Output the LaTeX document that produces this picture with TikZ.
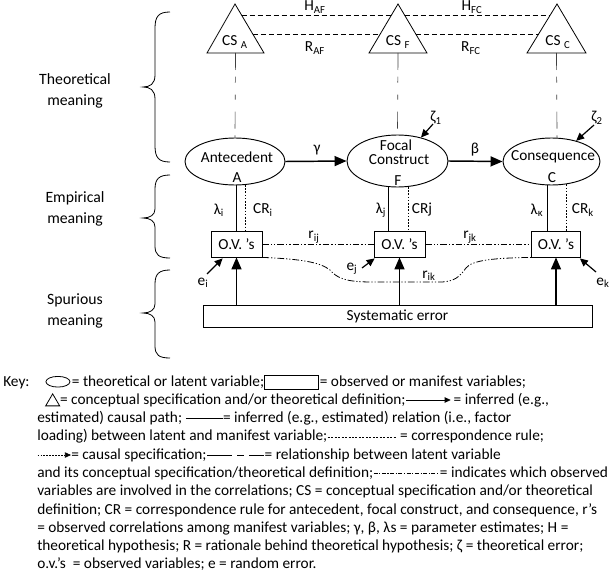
\documentclass[tikz,border=0pt]{standalone}
\usepackage{fontspec}
\setmainfont{Carlito}
\usetikzlibrary{arrows.meta,calc,shapes.geometric}
\newcommand\myfs{\fontsize{11.5}{14}\selectfont}
% inline key symbols
\newcommand\kell{\tikz[baseline=0pt]{\draw[line width=0.6pt] (9.5pt,3.2pt) ellipse [x radius=9pt, y radius=4pt]; \path (0pt,0pt) (20pt,0pt);}}
\newcommand\krect{\tikz[baseline=0pt]{\draw[line width=0.6pt] (0.5pt,-2.6pt) rectangle (41pt,7.6pt); \path (42pt,0pt);}}
\newcommand\ktri{\tikz[baseline=0pt]{\draw[line width=0.6pt] (0.5pt,-1.4pt) -- (11pt,-1.4pt) -- (5.75pt,7.6pt) -- cycle;}}
\newcommand\karr{\tikz[baseline=0pt]{\draw[line width=0.6pt,-{Triangle[length=4.5pt,width=4pt]}] (0.5pt,3pt) -- (34pt,3pt);}}
\newcommand\kline{\tikz[baseline=0pt]{\draw[line width=0.6pt] (0.5pt,3pt) -- (28pt,3pt);}}
\newcommand\kdots{\tikz[baseline=0pt]{\draw[line width=0.5pt,dash pattern=on 1.5pt off 1.1pt] (0.5pt,2.2pt) -- (52pt,2.2pt);}}
\newcommand\kdarr{\tikz[baseline=0pt]{\draw[line width=0.5pt,dash pattern=on 1.1pt off 1.1pt,-{Triangle[length=4.5pt,width=4pt]}] (0pt,3pt) -- (25pt,3pt);}}
\newcommand\kldash{\tikz[baseline=0pt]{\draw[line width=0.6pt,dash pattern=on 19pt off 3.75pt on 5pt off 3.75pt] (0.5pt,3pt) -- (43.5pt,3pt);}}
\newcommand\kdd{\tikz[baseline=0pt]{\draw[line width=0.5pt,dash pattern=on 3pt off 1.2pt on 0.8pt off 1.2pt] (0.5pt,3pt) -- (50pt,3pt);}}
\begin{document}
\begin{tikzpicture}[x=0.75pt,y=-0.75pt,
  every node/.style={inner sep=0pt,font=\myfs},
  ln/.style={line width=0.6pt},
  latent/.style={ellipse,draw,line width=0.7pt},
  obs/.style={draw,line width=0.6pt,minimum width=38.25pt,minimum height=19.5pt},
  hyp/.style={line width=0.6pt,dash pattern=on 3.75pt off 2.25pt},
  csline/.style={line width=0.5pt,black!75,dash pattern=on 12.75pt off 5pt on 4.5pt off 9pt on 3.75pt off 9pt},
  crline/.style={line width=0.6pt,dash pattern=on 1.2pt off 1.2pt},
  rline/.style={line width=0.6pt,dash pattern=on 5pt off 1.5pt on 0.9pt off 1.5pt on 0.9pt off 1.5pt},
  bigarr/.style={line width=1.1pt,-{Triangle[length=9pt,width=7.5pt]}},
  smallarr/.style={line width=0.9pt,-{Triangle[length=6pt,width=5.5pt]}},
  brace/.style={line width=0.6pt},
  side/.style={align=center,font=\fontsize{11.8}{15.75}\selectfont},
  keytxt/.style={anchor=base west}]
\useasboundingbox (0,0) rectangle (610,574);

% ---------- triangles (conceptual specifications) ----------
\coordinate (tA1) at (207,53); \coordinate (tA2) at (264,53); \coordinate (tA3) at (235,4);
\coordinate (tF1) at (369,53); \coordinate (tF2) at (427,53); \coordinate (tF3) at (398,4);
\coordinate (tC1) at (527,53); \coordinate (tC2) at (586,53); \coordinate (tC3) at (557,4);
\draw[ln] (tA1) -- (tA3) -- (tA2) -- cycle;
\draw[ln] (tF1) -- (tF3) -- (tF2) -- cycle;
\draw[ln] (tC1) -- (tC3) -- (tC2) -- cycle;
\node (csA) at (235,42) {CS \textsubscript{A}};
\node (csF) at (398,42) {CS \textsubscript{F}};
\node (csC) at (558,42) {CS \textsubscript{C}};

% edge points for H and R lines
\coordinate (hA) at ($(tA3)!0.2245!(tA2)$);
\coordinate (hF1) at ($(tF3)!0.2245!(tF1)$);
\coordinate (hF2) at ($(tF3)!0.2245!(tF2)$);
\coordinate (hC) at ($(tC3)!0.2245!(tC1)$);
\coordinate (rA) at ($(tA3)!0.612!(tA2)$);
\coordinate (rF1) at ($(tF3)!0.612!(tF1)$);
\coordinate (rF2) at ($(tF3)!0.612!(tF2)$);
\coordinate (rC) at ($(tC3)!0.612!(tC1)$);
\draw[hyp] (hA) -- (hF1);
\draw[hyp] (hF2) -- (hC);
\draw[hyp] (rA) -- (rF1);
\draw[hyp] (rF2) -- (rC);
\node (hAF) at (315,7) {H\textsubscript{AF}};
\node (hFC) at (472,7) {H\textsubscript{FC}};
\node (rAF) at (315,48) {R\textsubscript{AF}};
\node (rFC) at (471,48) {R\textsubscript{FC}};

% ---------- latent variables ----------
\node[latent,minimum width=75pt,minimum height=35.25pt] (eA) at (235,161.5) {};
\node[latent,minimum width=75.75pt,minimum height=39pt] (eF) at (397.5,161) {};
\node[latent,minimum width=72.75pt,minimum height=35.25pt] (eC) at (551.5,161.5) {};
\node (tAnt) at (237,157) {Antecedent};
\node (tAA) at (237,178) {A};
\node (tFoc) at (396,145) {Focal};
\node (tCon) at (399,160) {Construct};
\node (tFF) at (398,181) {F};
\node (tCsq) at (553,157) {Consequence};
\node (tCC) at (552,178) {C};

% CS -- latent
\draw[csline] ($(tA1)!0.5!(tA2)$) -- (eA.north);
\draw[csline] ($(tF1)!0.5!(tF2)$) -- (eF.north);
\draw[csline] ($(tC1)!0.5!(tC2)$) -- (eC.north -| tC3);

% causal paths
\draw[bigarr] (eA.east) -- (eF.west);
\draw[bigarr] (eF.east) -- (eC.west);
\node (gam) at (317,150) {γ};
\node (bet) at (475,150) {β};

% zetas
\node (z1) at (436,118) {ζ\textsubscript{1}};
\node (z2) at (597,118) {ζ\textsubscript{2}};
\coordinate (z1t) at (433,124);
\coordinate (z2t) at (594,125);
\draw[smallarr] (z1t) -- (eF.45);
\draw[smallarr] (z2t) -- (eC.40);

% ---------- observed variables ----------
\node[obs] (oA) at (236.5,244) {O.V. ’s};
\node[obs] (oF) at (399.5,244) {O.V. ’s};
\node[obs,minimum width=36.75pt] (oC) at (556,244) {O.V. ’s};

\draw[ln] (eA.south -| oA.north) -- (oA.north);
\draw[crline] ($(eA.south)+(10,-0.5)$) -- ($(oA.north)+(8.5,0)$);
\draw[ln] ($(eF.south)+(-9.5,-0.5)$) -- ($(oF.north)+(-11.5,0)$);
\draw[crline] ($(eF.south)+(10.5,-0.5)$) -- ($(oF.north)+(8.5,0)$);
\draw[ln] ($(eC.south)+(-4.5,0)$) -- ($(oC.north)+(-9,0)$);
\draw[crline] ($(eC.south)+(14.5,-1)$) -- ($(oC.north)+(10,0)$);
\node (lamI) at (219,210) {λ\textsubscript{i}};
\node (crI) at (263,210) {CR\textsubscript{i}};
\node (lamJ) at (381,210) {λ\textsubscript{j}};
\node (crJ) at (422,210) {CRj};
\node (lamK) at (537,210) {λ\textsubscript{κ}};
\node (crK) at (583,210) {CR\textsubscript{k}};

% correlations
\draw[rline] (oA.east) -- (oF.west);
\draw[rline] (oF.east) -- (oC.west);
\node (rij) at (314,237) {r\textsubscript{ij}};
\node (rjk) at (470,237) {r\textsubscript{jk}};
\draw[rline] (oA.south east) .. controls (300,259) and (320,262) .. (330,270)
   .. controls (337,278) and (345,282) .. (372,282) -- (440,282)
   .. controls (455,282) and (460,276) .. (466,268)
   .. controls (472,260) and (495,258) .. (oC.south west);
\node (rik) at (429,276) {r\textsubscript{ik}};

% random errors
\node (ei) at (203,283) {e\textsubscript{i}};
\node (ej) at (352,269) {e\textsubscript{j}};
\node (ek) at (603,283) {e\textsubscript{k}};
\coordinate (eit) at (207,274);
\coordinate (ejt) at (362,268);
\coordinate (ekt) at (596,272);
\draw[smallarr] (eit) -- ($(oA.south west)+(12,1)$);
\draw[smallarr] (ejt) -- ($(oF.south west)+(1,1)$);
\draw[smallarr] (ekt) -- ($(oC.south east)+(-1,1)$);

% systematic error
\node[draw,line width=0.6pt,minimum width=291.75pt,minimum height=16.5pt] (se) at (397.5,316) {Systematic error};
\draw[bigarr] (se.north -| oA.south) -- (oA.south);
\draw[bigarr] (se.north -| oF.south) -- (oF.south);
\draw[bigarr] (se.north -| oC.south) -- (oC.south);

% ---------- braces and side labels ----------
\draw[brace] (170,12) .. controls (159,12) and (155,16) .. (155,28) -- (155,75)
  .. controls (155,84) and (150,87) .. (143,87) .. controls (150,87) and (155,90) .. (155,99)
  -- (155,146) .. controls (155,158) and (159,162) .. (170,162);
\draw[brace] (170,175) .. controls (159,175) and (155,179) .. (155,189) -- (155,209)
  .. controls (155,215) and (150,218) .. (143,218) .. controls (150,218) and (155,221) .. (155,227)
  -- (155,246) .. controls (155,255) and (159,258) .. (170,258);
\draw[brace] (170,270) .. controls (159,270) and (155,274) .. (155,284) -- (155,304)
  .. controls (155,310) and (150,313) .. (143,313) .. controls (150,313) and (155,316) .. (155,322)
  -- (155,346) .. controls (155,355) and (159,358) .. (170,358);
\node[side] (thm) at (75,91) {Theoretical\\meaning};
\node[side] (emm) at (75,209) {Empirical\\meaning};
\node[side] (spm) at (75,311) {Spurious\\meaning};

% ---------- key ----------
\node[keytxt] (k0) at (3,386) {Key:};
\node[keytxt] (k1) at (45,386) {\kell= theoretical or latent variable;\krect= observed or manifest variables;};
\node[keytxt] (k2) at (45,404) {\ktri= conceptual specification and/or theoretical definition;\karr\,= inferred (e.g.,};
\node[keytxt] (k3) at (37,422) {estimated) causal path; \kline= inferred (e.g., estimated) relation (i.e., factor};
\node[keytxt] (k4) at (37,440.5) {loading) between latent and manifest variable;\kdots\ = correspondence rule;};
\node[keytxt] (k5) at (37,459) {\kdarr= causal specification;\kldash= relationship between latent variable};
\node[keytxt] (k6) at (37,477) {and its conceptual specification/theoretical definition;\kdd= indicates which observed};
\node[keytxt] (k7) at (37,495) {variables are involved in the correlations; CS = conceptual specification and/or theoretical};
\node[keytxt] (k8) at (37,514) {definition; CR = correspondence rule for antecedent, focal construct, and consequence, r’s};
\node[keytxt] (k9) at (37,532) {= observed correlations among manifest variables; γ, β, λs = parameter estimates; H =};
\node[keytxt] (k10) at (37,550) {theoretical hypothesis; R = rationale behind theoretical hypothesis; ζ = theoretical error;};
\node[keytxt] (k11) at (37,568) {o.v.’s \ = observed variables; e = random error.};
\end{tikzpicture}
\end{document}
